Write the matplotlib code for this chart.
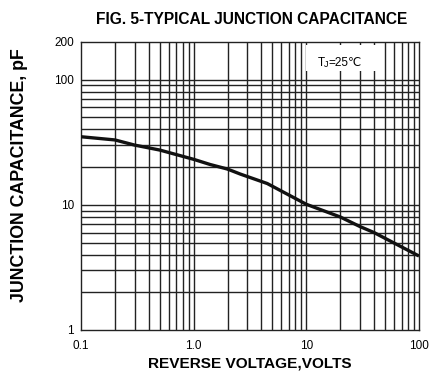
import matplotlib
matplotlib.use("Agg")
import matplotlib.pyplot as plt
from matplotlib.patches import Rectangle
from matplotlib.ticker import FixedLocator, FixedFormatter, LogLocator, NullFormatter

plt.rcParams["font.family"] = ["Liberation Sans", "DejaVu Sans"]

# curve (reverse voltage in V, capacitance in pF)
voltage = [0.1, 0.2, 0.3, 0.5, 1.0, 1.4, 2.0, 2.6, 4.5, 10, 20, 30, 40, 50, 100]
capacitance = [35, 33, 30, 27.4, 23.1, 21, 19.3, 17.6, 14.8, 10.1, 8.0, 6.7, 6.0, 5.4, 3.9]

x_ticks = [0.1, 1, 10, 100]
x_labels = ["0.1", "1.0", "10", "100"]
y_ticks = [1, 10, 100, 200]
y_labels = ["1", "10", "100", "200"]


def main() -> None:
    fig = plt.figure(figsize=(4.37, 3.81), dpi=100)
    ax = fig.add_axes([81 / 437, 1 - 330 / 381, 338 / 437, 288 / 381])

    ax.set_xscale("log")
    ax.set_yscale("log")
    ax.set_xlim(0.1, 100)
    ax.set_ylim(1, 200)

    ax.xaxis.set_major_locator(FixedLocator(x_ticks))
    ax.xaxis.set_major_formatter(FixedFormatter(x_labels))
    ax.xaxis.set_minor_locator(LogLocator(base=10, subs=range(2, 10)))
    ax.xaxis.set_minor_formatter(NullFormatter())
    ax.yaxis.set_major_locator(FixedLocator(y_ticks))
    ax.yaxis.set_major_formatter(FixedFormatter(y_labels))
    ax.yaxis.set_minor_locator(LogLocator(base=10, subs=range(2, 10)))
    ax.yaxis.set_minor_formatter(NullFormatter())

    # grid everywhere except between 100 and 200 on y
    for v in ax.xaxis.get_minorticklocs().tolist() + x_ticks:
        if 0.1 < v < 100:
            ax.axvline(v, color="#222222", lw=1.0, zorder=1)
    for v in ax.yaxis.get_minorticklocs().tolist() + [10, 100]:
        if 1 < v <= 100:
            ax.axhline(v, color="#222222", lw=1.0, zorder=1)

    ax.tick_params(which="both", length=0, labelsize=8.5)
    ax.tick_params(axis="x", pad=7)
    ax.tick_params(axis="y", pad=5)
    for s in ax.spines.values():
        s.set_linewidth(1.0)
        s.set_color("#222222")

    ax.plot(voltage, capacitance, color="#111111", lw=2.4, zorder=3,
            solid_capstyle="butt")

    # Tj = 25 C label on a white patch
    ax.add_patch(Rectangle((0.665, 0.9), 0.21, 0.09, transform=ax.transAxes,
                           facecolor="white", edgecolor="none", zorder=2))
    ax.text(0.70, 0.928, "T", transform=ax.transAxes,
            ha="left", va="center", fontsize=8.5, zorder=4)
    ax.text(0.719, 0.922, "J", transform=ax.transAxes,
            ha="left", va="center", fontsize=6.5, zorder=4)
    ax.text(0.733, 0.928, "=25\u2103", transform=ax.transAxes,
            ha="left", va="center", fontsize=8.5, zorder=4,
            family=["Liberation Sans", "DejaVu Sans"])

    fig.text(252 / 437, 1 - 19 / 381, "FIG. 5-TYPICAL JUNCTION CAPACITANCE",
             ha="center", va="center", fontsize=11.2, fontweight="bold")
    fig.text(250 / 437, 1 - 364 / 381, "REVERSE VOLTAGE,VOLTS",
             ha="center", va="center", fontsize=11.1, fontweight="bold")
    fig.text(20 / 437, 1 - 175 / 381, "JUNCTION CAPACITANCE, pF", rotation=90,
             ha="center", va="center", fontsize=12.8, fontweight="bold")

    fig.savefig("out.png", dpi=100)
    plt.close(fig)


if __name__ == "__main__":
    main()
